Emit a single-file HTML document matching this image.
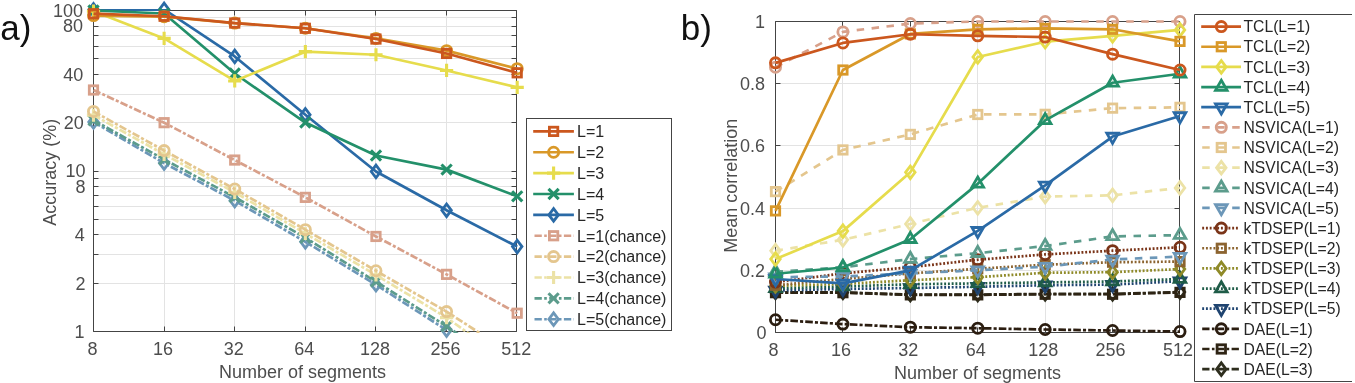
<!DOCTYPE html>
<html><head><meta charset="utf-8"><style>
html,body{margin:0;padding:0;background:#fff;width:1355px;height:383px;overflow:hidden;}
svg{display:block;font-family:"Liberation Sans", sans-serif;will-change:transform;}
</style></head><body>
<svg width="1355" height="383" viewBox="0 0 1355 383">
<rect width="1355" height="383" fill="#fff"/>
<defs><clipPath id="cL"><rect x="92.0" y="9.0" width="426.0" height="324.0"/></clipPath>
<clipPath id="cR"><rect x="774.0" y="20.0" width="407.0" height="314.0"/></clipPath></defs>
<path d="M93.5 283.50H516.5" stroke="#e3e3e3" stroke-width="1"/>
<path d="M93.5 254.50H516.5" stroke="#e3e3e3" stroke-width="1"/>
<path d="M93.5 234.50H516.5" stroke="#e3e3e3" stroke-width="1"/>
<path d="M93.5 219.50H516.5" stroke="#e3e3e3" stroke-width="1"/>
<path d="M93.5 206.50H516.5" stroke="#e3e3e3" stroke-width="1"/>
<path d="M93.5 195.50H516.5" stroke="#e3e3e3" stroke-width="1"/>
<path d="M93.5 186.50H516.5" stroke="#e3e3e3" stroke-width="1"/>
<path d="M93.5 178.50H516.5" stroke="#e3e3e3" stroke-width="1"/>
<path d="M93.5 122.50H516.5" stroke="#e3e3e3" stroke-width="1"/>
<path d="M93.5 94.50H516.5" stroke="#e3e3e3" stroke-width="1"/>
<path d="M93.5 74.50H516.5" stroke="#e3e3e3" stroke-width="1"/>
<path d="M93.5 58.50H516.5" stroke="#e3e3e3" stroke-width="1"/>
<path d="M93.5 46.50H516.5" stroke="#e3e3e3" stroke-width="1"/>
<path d="M93.5 35.50H516.5" stroke="#e3e3e3" stroke-width="1"/>
<path d="M93.5 26.50H516.5" stroke="#e3e3e3" stroke-width="1"/>
<path d="M93.5 17.50H516.5" stroke="#e3e3e3" stroke-width="1"/>
<path d="M93.5 171.50H516.5" stroke="#e3e3e3" stroke-width="1"/>
<path d="M164.50 10.5V331.5" stroke="#e3e3e3" stroke-width="1"/>
<path d="M234.50 10.5V331.5" stroke="#e3e3e3" stroke-width="1"/>
<path d="M305.50 10.5V331.5" stroke="#e3e3e3" stroke-width="1"/>
<path d="M375.50 10.5V331.5" stroke="#e3e3e3" stroke-width="1"/>
<path d="M446.50 10.5V331.5" stroke="#e3e3e3" stroke-width="1"/>
<path d="M93.5 10.5H516.5V331.5H93.5Z" fill="none" stroke="#444444" stroke-width="1"/>
<path d="M93.5 283.50h5M516.5 283.50h-5" stroke="#444444" stroke-width="1"/>
<path d="M93.5 254.50h5M516.5 254.50h-5" stroke="#444444" stroke-width="1"/>
<path d="M93.5 234.50h5M516.5 234.50h-5" stroke="#444444" stroke-width="1"/>
<path d="M93.5 219.50h5M516.5 219.50h-5" stroke="#444444" stroke-width="1"/>
<path d="M93.5 206.50h5M516.5 206.50h-5" stroke="#444444" stroke-width="1"/>
<path d="M93.5 195.50h5M516.5 195.50h-5" stroke="#444444" stroke-width="1"/>
<path d="M93.5 186.50h5M516.5 186.50h-5" stroke="#444444" stroke-width="1"/>
<path d="M93.5 178.50h5M516.5 178.50h-5" stroke="#444444" stroke-width="1"/>
<path d="M93.5 122.50h5M516.5 122.50h-5" stroke="#444444" stroke-width="1"/>
<path d="M93.5 94.50h5M516.5 94.50h-5" stroke="#444444" stroke-width="1"/>
<path d="M93.5 74.50h5M516.5 74.50h-5" stroke="#444444" stroke-width="1"/>
<path d="M93.5 58.50h5M516.5 58.50h-5" stroke="#444444" stroke-width="1"/>
<path d="M93.5 46.50h5M516.5 46.50h-5" stroke="#444444" stroke-width="1"/>
<path d="M93.5 35.50h5M516.5 35.50h-5" stroke="#444444" stroke-width="1"/>
<path d="M93.5 26.50h5M516.5 26.50h-5" stroke="#444444" stroke-width="1"/>
<path d="M93.5 17.50h5M516.5 17.50h-5" stroke="#444444" stroke-width="1"/>
<path d="M93.5 171.50h5M516.5 171.50h-5" stroke="#444444" stroke-width="1"/>
<path d="M93.5 10.50h5M516.5 10.50h-5" stroke="#444444" stroke-width="1"/>
<path d="M93.5 331.50h5M516.5 331.50h-5" stroke="#444444" stroke-width="1"/>
<path d="M93.50 331.5v-5M93.50 10.5v5" stroke="#444444" stroke-width="1"/>
<path d="M164.50 331.5v-5M164.50 10.5v5" stroke="#444444" stroke-width="1"/>
<path d="M234.50 331.5v-5M234.50 10.5v5" stroke="#444444" stroke-width="1"/>
<path d="M305.50 331.5v-5M305.50 10.5v5" stroke="#444444" stroke-width="1"/>
<path d="M375.50 331.5v-5M375.50 10.5v5" stroke="#444444" stroke-width="1"/>
<path d="M446.50 331.5v-5M446.50 10.5v5" stroke="#444444" stroke-width="1"/>
<path d="M516.50 331.5v-5M516.50 10.5v5" stroke="#444444" stroke-width="1"/>
<path d="M93.50 121.99 L164.12 163.10 L234.73 200.60 L305.35 241.83 L375.97 284.70 L446.58 330.12 L517.20 379.82" fill="none" stroke="#6c97b8" stroke-width="2.7" stroke-linejoin="round" stroke-dasharray="7.6 2.1 3.1 2.1" clip-path="url(#cL)"/>
<path d="M93.50 115.69L98.25 121.99L93.50 128.29L88.75 121.99Z" fill="none" stroke="#6c97b8" stroke-width="2.8"/>
<path d="M164.12 156.80L168.87 163.10L164.12 169.40L159.37 163.10Z" fill="none" stroke="#6c97b8" stroke-width="2.8"/>
<path d="M234.73 194.30L239.48 200.60L234.73 206.90L229.98 200.60Z" fill="none" stroke="#6c97b8" stroke-width="2.8"/>
<path d="M305.35 235.53L310.10 241.83L305.35 248.13L300.60 241.83Z" fill="none" stroke="#6c97b8" stroke-width="2.8"/>
<path d="M375.97 278.40L380.72 284.70L375.97 291.00L371.22 284.70Z" fill="none" stroke="#6c97b8" stroke-width="2.8"/>
<path d="M446.58 323.82L451.33 330.12L446.58 336.42L441.83 330.12Z" fill="none" stroke="#6c97b8" stroke-width="2.8"/>
<path d="M93.50 120.29 L164.12 159.46 L234.73 197.17 L305.35 237.71 L375.97 281.63 L446.58 326.33 L517.20 374.45" fill="none" stroke="#5c9c8c" stroke-width="2.7" stroke-linejoin="round" stroke-dasharray="7.6 2.1 3.1 2.1" clip-path="url(#cL)"/>
<path d="M88.40 115.19L98.60 125.39M88.40 125.39L98.60 115.19" stroke="#5c9c8c" stroke-width="3.0999999999999996" fill="none"/>
<path d="M159.02 154.36L169.22 164.56M159.02 164.56L169.22 154.36" stroke="#5c9c8c" stroke-width="3.0999999999999996" fill="none"/>
<path d="M229.63 192.07L239.83 202.27M229.63 202.27L239.83 192.07" stroke="#5c9c8c" stroke-width="3.0999999999999996" fill="none"/>
<path d="M300.25 232.61L310.45 242.81M300.25 242.81L310.45 232.61" stroke="#5c9c8c" stroke-width="3.0999999999999996" fill="none"/>
<path d="M370.87 276.53L381.07 286.73M370.87 286.73L381.07 276.53" stroke="#5c9c8c" stroke-width="3.0999999999999996" fill="none"/>
<path d="M441.48 321.23L451.68 331.43M441.48 331.43L451.68 321.23" stroke="#5c9c8c" stroke-width="3.0999999999999996" fill="none"/>
<path d="M93.50 115.10 L164.12 154.34 L234.73 192.37 L305.35 233.49 L375.97 274.97 L446.58 317.64 L517.20 368.28" fill="none" stroke="#ece2a6" stroke-width="2.7" stroke-linejoin="round" stroke-dasharray="7.6 2.1 3.1 2.1" clip-path="url(#cL)"/>
<path d="M86.90 115.10H100.10M93.50 108.50V121.70" stroke="#ece2a6" stroke-width="3.0999999999999996" fill="none"/>
<path d="M157.52 154.34H170.72M164.12 147.74V160.94" stroke="#ece2a6" stroke-width="3.0999999999999996" fill="none"/>
<path d="M228.13 192.37H241.33M234.73 185.77V198.97" stroke="#ece2a6" stroke-width="3.0999999999999996" fill="none"/>
<path d="M298.75 233.49H311.95M305.35 226.89V240.09" stroke="#ece2a6" stroke-width="3.0999999999999996" fill="none"/>
<path d="M369.37 274.97H382.57M375.97 268.37V281.57" stroke="#ece2a6" stroke-width="3.0999999999999996" fill="none"/>
<path d="M439.98 317.64H453.18M446.58 311.04V324.24" stroke="#ece2a6" stroke-width="3.0999999999999996" fill="none"/>
<path d="M93.50 111.44 L164.12 150.60 L234.73 189.04 L305.35 229.67 L375.97 270.77 L446.58 311.62 L517.20 357.36" fill="none" stroke="#e4c68e" stroke-width="2.7" stroke-linejoin="round" stroke-dasharray="7.6 2.1 3.1 2.1" clip-path="url(#cL)"/>
<circle cx="93.50" cy="111.44" r="5.1" fill="none" stroke="#e4c68e" stroke-width="2.8"/>
<circle cx="164.12" cy="150.60" r="5.1" fill="none" stroke="#e4c68e" stroke-width="2.8"/>
<circle cx="234.73" cy="189.04" r="5.1" fill="none" stroke="#e4c68e" stroke-width="2.8"/>
<circle cx="305.35" cy="229.67" r="5.1" fill="none" stroke="#e4c68e" stroke-width="2.8"/>
<circle cx="375.97" cy="270.77" r="5.1" fill="none" stroke="#e4c68e" stroke-width="2.8"/>
<circle cx="446.58" cy="311.62" r="5.1" fill="none" stroke="#e4c68e" stroke-width="2.8"/>
<path d="M93.50 90.01 L164.12 122.68 L234.73 160.06 L305.35 197.37 L375.97 236.46 L446.58 274.36 L517.20 313.21" fill="none" stroke="#d8a08a" stroke-width="2.7" stroke-linejoin="round" stroke-dasharray="7.6 2.1 3.1 2.1" clip-path="url(#cL)"/>
<rect x="89.30" y="85.81" width="8.40" height="8.40" fill="none" stroke="#d8a08a" stroke-width="2.8"/>
<rect x="159.92" y="118.48" width="8.40" height="8.40" fill="none" stroke="#d8a08a" stroke-width="2.8"/>
<rect x="230.53" y="155.86" width="8.40" height="8.40" fill="none" stroke="#d8a08a" stroke-width="2.8"/>
<rect x="301.15" y="193.17" width="8.40" height="8.40" fill="none" stroke="#d8a08a" stroke-width="2.8"/>
<rect x="371.77" y="232.26" width="8.40" height="8.40" fill="none" stroke="#d8a08a" stroke-width="2.8"/>
<rect x="442.38" y="270.16" width="8.40" height="8.40" fill="none" stroke="#d8a08a" stroke-width="2.8"/>
<rect x="513.00" y="309.01" width="8.40" height="8.40" fill="none" stroke="#d8a08a" stroke-width="2.8"/>
<path d="M93.50 9.81 L164.12 9.46 L234.73 56.48 L305.35 114.79 L375.97 171.49 L446.58 210.30 L517.20 246.61" fill="none" stroke="#2a6aa6" stroke-width="2.7" stroke-linejoin="round" clip-path="url(#cL)"/>
<path d="M93.50 3.51L98.25 9.81L93.50 16.11L88.75 9.81Z" fill="none" stroke="#2a6aa6" stroke-width="2.8"/>
<path d="M164.12 3.16L168.87 9.46L164.12 15.76L159.37 9.46Z" fill="none" stroke="#2a6aa6" stroke-width="2.8"/>
<path d="M234.73 50.18L239.48 56.48L234.73 62.78L229.98 56.48Z" fill="none" stroke="#2a6aa6" stroke-width="2.8"/>
<path d="M305.35 108.49L310.10 114.79L305.35 121.09L300.60 114.79Z" fill="none" stroke="#2a6aa6" stroke-width="2.8"/>
<path d="M375.97 165.19L380.72 171.49L375.97 177.79L371.22 171.49Z" fill="none" stroke="#2a6aa6" stroke-width="2.8"/>
<path d="M446.58 204.00L451.33 210.30L446.58 216.60L441.83 210.30Z" fill="none" stroke="#2a6aa6" stroke-width="2.8"/>
<path d="M517.20 240.31L521.95 246.61L517.20 252.91L512.45 246.61Z" fill="none" stroke="#2a6aa6" stroke-width="2.8"/>
<path d="M93.50 10.50 L164.12 13.49 L234.73 73.50 L305.35 122.55 L375.97 155.45 L446.58 169.62 L517.20 196.36" fill="none" stroke="#23906a" stroke-width="2.7" stroke-linejoin="round" clip-path="url(#cL)"/>
<path d="M88.40 5.40L98.60 15.60M88.40 15.60L98.60 5.40" stroke="#23906a" stroke-width="3.0999999999999996" fill="none"/>
<path d="M159.02 8.39L169.22 18.59M159.02 18.59L169.22 8.39" stroke="#23906a" stroke-width="3.0999999999999996" fill="none"/>
<path d="M229.63 68.40L239.83 78.60M229.63 78.60L239.83 68.40" stroke="#23906a" stroke-width="3.0999999999999996" fill="none"/>
<path d="M300.25 117.45L310.45 127.65M300.25 127.65L310.45 117.45" stroke="#23906a" stroke-width="3.0999999999999996" fill="none"/>
<path d="M370.87 150.35L381.07 160.55M370.87 160.55L381.07 150.35" stroke="#23906a" stroke-width="3.0999999999999996" fill="none"/>
<path d="M441.48 164.52L451.68 174.72M441.48 174.72L451.68 164.52" stroke="#23906a" stroke-width="3.0999999999999996" fill="none"/>
<path d="M512.10 191.26L522.30 201.46M512.10 201.46L522.30 191.26" stroke="#23906a" stroke-width="3.0999999999999996" fill="none"/>
<path d="M93.50 11.20 L164.12 38.41 L234.73 80.94 L305.35 51.67 L375.97 54.75 L446.58 70.47 L517.20 87.36" fill="none" stroke="#e6dc4c" stroke-width="2.7" stroke-linejoin="round" clip-path="url(#cL)"/>
<path d="M86.90 11.20H100.10M93.50 4.60V17.80" stroke="#e6dc4c" stroke-width="3.0999999999999996" fill="none"/>
<path d="M157.52 38.41H170.72M164.12 31.81V45.01" stroke="#e6dc4c" stroke-width="3.0999999999999996" fill="none"/>
<path d="M228.13 80.94H241.33M234.73 74.34V87.54" stroke="#e6dc4c" stroke-width="3.0999999999999996" fill="none"/>
<path d="M298.75 51.67H311.95M305.35 45.07V58.27" stroke="#e6dc4c" stroke-width="3.0999999999999996" fill="none"/>
<path d="M369.37 54.75H382.57M375.97 48.15V61.35" stroke="#e6dc4c" stroke-width="3.0999999999999996" fill="none"/>
<path d="M439.98 70.47H453.18M446.58 63.87V77.07" stroke="#e6dc4c" stroke-width="3.0999999999999996" fill="none"/>
<path d="M510.60 87.36H523.80M517.20 80.76V93.96" stroke="#e6dc4c" stroke-width="3.0999999999999996" fill="none"/>
<path d="M93.50 15.56 L164.12 16.69 L234.73 23.07 L305.35 28.27 L375.97 38.41 L446.58 50.67 L517.20 68.68" fill="none" stroke="#d99828" stroke-width="2.7" stroke-linejoin="round" clip-path="url(#cL)"/>
<circle cx="93.50" cy="15.56" r="5.1" fill="none" stroke="#d99828" stroke-width="2.8"/>
<circle cx="164.12" cy="16.69" r="5.1" fill="none" stroke="#d99828" stroke-width="2.8"/>
<circle cx="234.73" cy="23.07" r="5.1" fill="none" stroke="#d99828" stroke-width="2.8"/>
<circle cx="305.35" cy="28.27" r="5.1" fill="none" stroke="#d99828" stroke-width="2.8"/>
<circle cx="375.97" cy="38.41" r="5.1" fill="none" stroke="#d99828" stroke-width="2.8"/>
<circle cx="446.58" cy="50.67" r="5.1" fill="none" stroke="#d99828" stroke-width="2.8"/>
<circle cx="517.20" cy="68.68" r="5.1" fill="none" stroke="#d99828" stroke-width="2.8"/>
<path d="M93.50 13.71 L164.12 16.24 L234.73 23.07 L305.35 28.27 L375.97 39.04 L446.58 53.45 L517.20 72.82" fill="none" stroke="#cb571e" stroke-width="2.7" stroke-linejoin="round" clip-path="url(#cL)"/>
<rect x="89.30" y="9.51" width="8.40" height="8.40" fill="none" stroke="#cb571e" stroke-width="2.8"/>
<rect x="159.92" y="12.04" width="8.40" height="8.40" fill="none" stroke="#cb571e" stroke-width="2.8"/>
<rect x="230.53" y="18.87" width="8.40" height="8.40" fill="none" stroke="#cb571e" stroke-width="2.8"/>
<rect x="301.15" y="24.07" width="8.40" height="8.40" fill="none" stroke="#cb571e" stroke-width="2.8"/>
<rect x="371.77" y="34.84" width="8.40" height="8.40" fill="none" stroke="#cb571e" stroke-width="2.8"/>
<rect x="442.38" y="49.25" width="8.40" height="8.40" fill="none" stroke="#cb571e" stroke-width="2.8"/>
<rect x="513.00" y="68.62" width="8.40" height="8.40" fill="none" stroke="#cb571e" stroke-width="2.8"/>
<text x="84.60" y="337.90" font-size="18" fill="#4d4d4d" text-anchor="end" >1</text>
<text x="85.60" y="289.58" font-size="18" fill="#4d4d4d" text-anchor="end" >2</text>
<text x="84.80" y="241.27" font-size="18" fill="#4d4d4d" text-anchor="end" >4</text>
<text x="85.60" y="192.95" font-size="18" fill="#4d4d4d" text-anchor="end" >8</text>
<text x="85.60" y="177.40" font-size="18" fill="#4d4d4d" text-anchor="end" >10</text>
<text x="83.90" y="129.08" font-size="18" fill="#4d4d4d" text-anchor="end" >20</text>
<text x="83.40" y="80.77" font-size="18" fill="#4d4d4d" text-anchor="end" >40</text>
<text x="83.00" y="32.45" font-size="18" fill="#4d4d4d" text-anchor="end" >80</text>
<text x="83.00" y="16.90" font-size="18" fill="#4d4d4d" text-anchor="end" >100</text>
<text x="92.50" y="355.00" font-size="18" fill="#4d4d4d" text-anchor="middle" >8</text>
<text x="163.12" y="355.00" font-size="18" fill="#4d4d4d" text-anchor="middle" >16</text>
<text x="233.73" y="355.00" font-size="18" fill="#4d4d4d" text-anchor="middle" >32</text>
<text x="304.35" y="355.00" font-size="18" fill="#4d4d4d" text-anchor="middle" >64</text>
<text x="374.97" y="355.00" font-size="18" fill="#4d4d4d" text-anchor="middle" >128</text>
<text x="445.58" y="355.00" font-size="18" fill="#4d4d4d" text-anchor="middle" >256</text>
<text x="516.20" y="355.00" font-size="18" fill="#4d4d4d" text-anchor="middle" >512</text>
<text x="302.50" y="378.00" font-size="18" fill="#4d4d4d" text-anchor="middle" >Number of segments</text>
<text x="0.00" y="0.00" font-size="18" fill="#4d4d4d" text-anchor="middle" transform="translate(55.5 172.2) rotate(-90)">Accuracy (%)</text>
<text x="0.30" y="40.30" font-size="35" fill="#111" text-anchor="start" >a)</text>
<rect x="526.5" y="118.5" width="145" height="212" fill="#fff" stroke="#444444" stroke-width="1"/>
<path d="M533.2 131.40H573.9" stroke="#cb571e" stroke-width="2.7"/>
<rect x="549.40" y="127.20" width="8.40" height="8.40" fill="none" stroke="#cb571e" stroke-width="2.8"/>
<text x="577.00" y="137.20" font-size="16" fill="#262626" text-anchor="start" >L=1</text>
<path d="M533.2 152.27H573.9" stroke="#d99828" stroke-width="2.7"/>
<circle cx="553.60" cy="152.27" r="5.1" fill="none" stroke="#d99828" stroke-width="2.8"/>
<text x="577.00" y="158.07" font-size="16" fill="#262626" text-anchor="start" >L=2</text>
<path d="M533.2 173.14H573.9" stroke="#e6dc4c" stroke-width="2.7"/>
<path d="M547.00 173.14H560.20M553.60 166.54V179.74" stroke="#e6dc4c" stroke-width="3.0999999999999996" fill="none"/>
<text x="577.00" y="178.94" font-size="16" fill="#262626" text-anchor="start" >L=3</text>
<path d="M533.2 194.01H573.9" stroke="#23906a" stroke-width="2.7"/>
<path d="M548.50 188.91L558.70 199.11M548.50 199.11L558.70 188.91" stroke="#23906a" stroke-width="3.0999999999999996" fill="none"/>
<text x="577.00" y="199.81" font-size="16" fill="#262626" text-anchor="start" >L=4</text>
<path d="M533.2 214.88H573.9" stroke="#2a6aa6" stroke-width="2.7"/>
<path d="M553.60 208.58L558.35 214.88L553.60 221.18L548.85 214.88Z" fill="none" stroke="#2a6aa6" stroke-width="2.8"/>
<text x="577.00" y="220.68" font-size="16" fill="#262626" text-anchor="start" >L=5</text>
<path d="M534.5 235.75H573.9" stroke="#d8a08a" stroke-width="2.7" stroke-dasharray="7.3 2.4 2.6 2.4"/>
<rect x="549.40" y="231.55" width="8.40" height="8.40" fill="none" stroke="#d8a08a" stroke-width="2.8"/>
<text x="577.00" y="241.55" font-size="16" fill="#262626" text-anchor="start" >L=1(chance)</text>
<path d="M534.5 256.62H573.9" stroke="#e4c68e" stroke-width="2.7" stroke-dasharray="7.3 2.4 2.6 2.4"/>
<circle cx="553.60" cy="256.62" r="5.1" fill="none" stroke="#e4c68e" stroke-width="2.8"/>
<text x="577.00" y="262.42" font-size="16" fill="#262626" text-anchor="start" >L=2(chance)</text>
<path d="M534.5 277.49H573.9" stroke="#ece2a6" stroke-width="2.7" stroke-dasharray="7.3 2.4 2.6 2.4"/>
<path d="M547.00 277.49H560.20M553.60 270.89V284.09" stroke="#ece2a6" stroke-width="3.0999999999999996" fill="none"/>
<text x="577.00" y="283.29" font-size="16" fill="#262626" text-anchor="start" >L=3(chance)</text>
<path d="M534.5 298.36H573.9" stroke="#5c9c8c" stroke-width="2.7" stroke-dasharray="7.3 2.4 2.6 2.4"/>
<path d="M548.50 293.26L558.70 303.46M548.50 303.46L558.70 293.26" stroke="#5c9c8c" stroke-width="3.0999999999999996" fill="none"/>
<text x="577.00" y="304.16" font-size="16" fill="#262626" text-anchor="start" >L=4(chance)</text>
<path d="M534.5 319.23H573.9" stroke="#6c97b8" stroke-width="2.7" stroke-dasharray="7.3 2.4 2.6 2.4"/>
<path d="M553.60 312.93L558.35 319.23L553.60 325.53L548.85 319.23Z" fill="none" stroke="#6c97b8" stroke-width="2.8"/>
<text x="577.00" y="325.03" font-size="16" fill="#262626" text-anchor="start" >L=5(chance)</text>
<path d="M775.5 270.50H1179.5" stroke="#e3e3e3" stroke-width="1"/>
<path d="M775.5 208.50H1179.5" stroke="#e3e3e3" stroke-width="1"/>
<path d="M775.5 145.50H1179.5" stroke="#e3e3e3" stroke-width="1"/>
<path d="M775.5 83.50H1179.5" stroke="#e3e3e3" stroke-width="1"/>
<path d="M842.50 21.5V332.5" stroke="#e3e3e3" stroke-width="1"/>
<path d="M910.50 21.5V332.5" stroke="#e3e3e3" stroke-width="1"/>
<path d="M977.50 21.5V332.5" stroke="#e3e3e3" stroke-width="1"/>
<path d="M1045.50 21.5V332.5" stroke="#e3e3e3" stroke-width="1"/>
<path d="M1112.50 21.5V332.5" stroke="#e3e3e3" stroke-width="1"/>
<path d="M775.5 21.5H1179.5V332.5H775.5Z" fill="none" stroke="#444444" stroke-width="1"/>
<path d="M775.5 332.50h5M1179.5 332.50h-5" stroke="#444444" stroke-width="1"/>
<path d="M775.5 270.50h5M1179.5 270.50h-5" stroke="#444444" stroke-width="1"/>
<path d="M775.5 208.50h5M1179.5 208.50h-5" stroke="#444444" stroke-width="1"/>
<path d="M775.5 145.50h5M1179.5 145.50h-5" stroke="#444444" stroke-width="1"/>
<path d="M775.5 83.50h5M1179.5 83.50h-5" stroke="#444444" stroke-width="1"/>
<path d="M775.5 21.50h5M1179.5 21.50h-5" stroke="#444444" stroke-width="1"/>
<path d="M775.50 332.5v-5M775.50 21.5v5" stroke="#444444" stroke-width="1"/>
<path d="M842.50 332.5v-5M842.50 21.5v5" stroke="#444444" stroke-width="1"/>
<path d="M910.50 332.5v-5M910.50 21.5v5" stroke="#444444" stroke-width="1"/>
<path d="M977.50 332.5v-5M977.50 21.5v5" stroke="#444444" stroke-width="1"/>
<path d="M1045.50 332.5v-5M1045.50 21.5v5" stroke="#444444" stroke-width="1"/>
<path d="M1112.50 332.5v-5M1112.50 21.5v5" stroke="#444444" stroke-width="1"/>
<path d="M1179.50 332.5v-5M1179.50 21.5v5" stroke="#444444" stroke-width="1"/>
<path d="M775.50 292.38 L842.92 292.38 L910.33 294.56 L977.75 294.56 L1045.17 293.94 L1112.58 293.94 L1180.00 292.07" fill="none" stroke="#2e2e1e" stroke-width="2.7" stroke-linejoin="round" stroke-dasharray="7.6 2.1 3.1 2.1" clip-path="url(#cR)"/>
<path d="M775.50 286.08L780.25 292.38L775.50 298.68L770.75 292.38Z" fill="none" stroke="#2e2e1e" stroke-width="2.8"/>
<path d="M842.92 286.08L847.67 292.38L842.92 298.68L838.17 292.38Z" fill="none" stroke="#2e2e1e" stroke-width="2.8"/>
<path d="M910.33 288.26L915.08 294.56L910.33 300.86L905.58 294.56Z" fill="none" stroke="#2e2e1e" stroke-width="2.8"/>
<path d="M977.75 288.26L982.50 294.56L977.75 300.86L973.00 294.56Z" fill="none" stroke="#2e2e1e" stroke-width="2.8"/>
<path d="M1045.17 287.64L1049.92 293.94L1045.17 300.24L1040.42 293.94Z" fill="none" stroke="#2e2e1e" stroke-width="2.8"/>
<path d="M1112.58 287.64L1117.33 293.94L1112.58 300.24L1107.83 293.94Z" fill="none" stroke="#2e2e1e" stroke-width="2.8"/>
<path d="M1180.00 285.77L1184.75 292.07L1180.00 298.37L1175.25 292.07Z" fill="none" stroke="#2e2e1e" stroke-width="2.8"/>
<path d="M775.50 292.69 L842.92 292.69 L910.33 294.87 L977.75 294.87 L1045.17 294.25 L1112.58 294.25 L1180.00 292.38" fill="none" stroke="#2e2414" stroke-width="2.7" stroke-linejoin="round" stroke-dasharray="7.6 2.1 3.1 2.1" clip-path="url(#cR)"/>
<rect x="771.30" y="288.49" width="8.40" height="8.40" fill="none" stroke="#2e2414" stroke-width="2.8"/>
<rect x="838.72" y="288.49" width="8.40" height="8.40" fill="none" stroke="#2e2414" stroke-width="2.8"/>
<rect x="906.13" y="290.67" width="8.40" height="8.40" fill="none" stroke="#2e2414" stroke-width="2.8"/>
<rect x="973.55" y="290.67" width="8.40" height="8.40" fill="none" stroke="#2e2414" stroke-width="2.8"/>
<rect x="1040.97" y="290.05" width="8.40" height="8.40" fill="none" stroke="#2e2414" stroke-width="2.8"/>
<rect x="1108.38" y="290.05" width="8.40" height="8.40" fill="none" stroke="#2e2414" stroke-width="2.8"/>
<rect x="1175.80" y="288.18" width="8.40" height="8.40" fill="none" stroke="#2e2414" stroke-width="2.8"/>
<path d="M775.50 319.75 L842.92 324.10 L910.33 327.21 L977.75 328.21 L1045.17 329.51 L1112.58 330.51 L1180.00 331.57" fill="none" stroke="#2b1d10" stroke-width="2.7" stroke-linejoin="round" stroke-dasharray="7.6 2.1 3.1 2.1" clip-path="url(#cR)"/>
<circle cx="775.50" cy="319.75" r="5.1" fill="none" stroke="#2b1d10" stroke-width="2.8"/>
<circle cx="842.92" cy="324.10" r="5.1" fill="none" stroke="#2b1d10" stroke-width="2.8"/>
<circle cx="910.33" cy="327.21" r="5.1" fill="none" stroke="#2b1d10" stroke-width="2.8"/>
<circle cx="977.75" cy="328.21" r="5.1" fill="none" stroke="#2b1d10" stroke-width="2.8"/>
<circle cx="1045.17" cy="329.51" r="5.1" fill="none" stroke="#2b1d10" stroke-width="2.8"/>
<circle cx="1112.58" cy="330.51" r="5.1" fill="none" stroke="#2b1d10" stroke-width="2.8"/>
<circle cx="1180.00" cy="331.57" r="5.1" fill="none" stroke="#2b1d10" stroke-width="2.8"/>
<path d="M775.50 290.51 L842.92 288.96 L910.33 288.03 L977.75 286.78 L1045.17 285.23 L1112.58 284.61 L1180.00 281.19" fill="none" stroke="#1f4470" stroke-width="2.7" stroke-linejoin="round" stroke-dasharray="1.9 1.85" clip-path="url(#cR)"/>
<path d="M775.50 297.31L781.30 287.21L769.70 287.21Z" fill="none" stroke="#1f4470" stroke-width="2.8" stroke-linejoin="miter"/>
<path d="M842.92 295.76L848.72 285.66L837.12 285.66Z" fill="none" stroke="#1f4470" stroke-width="2.8" stroke-linejoin="miter"/>
<path d="M910.33 294.83L916.13 284.73L904.53 284.73Z" fill="none" stroke="#1f4470" stroke-width="2.8" stroke-linejoin="miter"/>
<path d="M977.75 293.58L983.55 283.48L971.95 283.48Z" fill="none" stroke="#1f4470" stroke-width="2.8" stroke-linejoin="miter"/>
<path d="M1045.17 292.03L1050.97 281.93L1039.37 281.93Z" fill="none" stroke="#1f4470" stroke-width="2.8" stroke-linejoin="miter"/>
<path d="M1112.58 291.41L1118.38 281.31L1106.78 281.31Z" fill="none" stroke="#1f4470" stroke-width="2.8" stroke-linejoin="miter"/>
<path d="M1180.00 287.99L1185.80 277.88L1174.20 277.88Z" fill="none" stroke="#1f4470" stroke-width="2.8" stroke-linejoin="miter"/>
<path d="M775.50 288.34 L842.92 286.47 L910.33 284.30 L977.75 283.36 L1045.17 282.43 L1112.58 281.50 L1180.00 279.01" fill="none" stroke="#1f5c48" stroke-width="2.7" stroke-linejoin="round" stroke-dasharray="1.9 1.85" clip-path="url(#cR)"/>
<path d="M775.50 281.54L781.30 291.64L769.70 291.64Z" fill="none" stroke="#1f5c48" stroke-width="2.8" stroke-linejoin="miter"/>
<path d="M842.92 279.67L848.72 289.77L837.12 289.77Z" fill="none" stroke="#1f5c48" stroke-width="2.8" stroke-linejoin="miter"/>
<path d="M910.33 277.50L916.13 287.60L904.53 287.60Z" fill="none" stroke="#1f5c48" stroke-width="2.8" stroke-linejoin="miter"/>
<path d="M977.75 276.56L983.55 286.66L971.95 286.66Z" fill="none" stroke="#1f5c48" stroke-width="2.8" stroke-linejoin="miter"/>
<path d="M1045.17 275.63L1050.97 285.73L1039.37 285.73Z" fill="none" stroke="#1f5c48" stroke-width="2.8" stroke-linejoin="miter"/>
<path d="M1112.58 274.70L1118.38 284.80L1106.78 284.80Z" fill="none" stroke="#1f5c48" stroke-width="2.8" stroke-linejoin="miter"/>
<path d="M1180.00 272.21L1185.80 282.31L1174.20 282.31Z" fill="none" stroke="#1f5c48" stroke-width="2.8" stroke-linejoin="miter"/>
<path d="M775.50 285.85 L842.92 283.98 L910.33 280.25 L977.75 277.14 L1045.17 272.79 L1112.58 272.17 L1180.00 269.06" fill="none" stroke="#8f8a28" stroke-width="2.7" stroke-linejoin="round" stroke-dasharray="1.9 1.85" clip-path="url(#cR)"/>
<path d="M775.50 279.55L780.25 285.85L775.50 292.15L770.75 285.85Z" fill="none" stroke="#8f8a28" stroke-width="2.8"/>
<path d="M842.92 277.68L847.67 283.98L842.92 290.28L838.17 283.98Z" fill="none" stroke="#8f8a28" stroke-width="2.8"/>
<path d="M910.33 273.95L915.08 280.25L910.33 286.55L905.58 280.25Z" fill="none" stroke="#8f8a28" stroke-width="2.8"/>
<path d="M977.75 270.84L982.50 277.14L977.75 283.44L973.00 277.14Z" fill="none" stroke="#8f8a28" stroke-width="2.8"/>
<path d="M1045.17 266.49L1049.92 272.79L1045.17 279.09L1040.42 272.79Z" fill="none" stroke="#8f8a28" stroke-width="2.8"/>
<path d="M1112.58 265.87L1117.33 272.17L1112.58 278.47L1107.83 272.17Z" fill="none" stroke="#8f8a28" stroke-width="2.8"/>
<path d="M1180.00 262.76L1184.75 269.06L1180.00 275.36L1175.25 269.06Z" fill="none" stroke="#8f8a28" stroke-width="2.8"/>
<path d="M775.50 285.23 L842.92 279.01 L910.33 273.41 L977.75 268.75 L1045.17 264.70 L1112.58 262.21 L1180.00 261.59" fill="none" stroke="#8c6430" stroke-width="2.7" stroke-linejoin="round" stroke-dasharray="1.9 1.85" clip-path="url(#cR)"/>
<rect x="771.30" y="281.03" width="8.40" height="8.40" fill="none" stroke="#8c6430" stroke-width="2.8"/>
<rect x="838.72" y="274.81" width="8.40" height="8.40" fill="none" stroke="#8c6430" stroke-width="2.8"/>
<rect x="906.13" y="269.21" width="8.40" height="8.40" fill="none" stroke="#8c6430" stroke-width="2.8"/>
<rect x="973.55" y="264.55" width="8.40" height="8.40" fill="none" stroke="#8c6430" stroke-width="2.8"/>
<rect x="1040.97" y="260.50" width="8.40" height="8.40" fill="none" stroke="#8c6430" stroke-width="2.8"/>
<rect x="1108.38" y="258.01" width="8.40" height="8.40" fill="none" stroke="#8c6430" stroke-width="2.8"/>
<rect x="1175.80" y="257.39" width="8.40" height="8.40" fill="none" stroke="#8c6430" stroke-width="2.8"/>
<path d="M775.50 282.12 L842.92 273.41 L910.33 267.19 L977.75 259.73 L1045.17 254.44 L1112.58 250.71 L1180.00 247.29" fill="none" stroke="#7a3418" stroke-width="2.7" stroke-linejoin="round" stroke-dasharray="1.9 1.85" clip-path="url(#cR)"/>
<circle cx="775.50" cy="282.12" r="5.1" fill="none" stroke="#7a3418" stroke-width="2.8"/>
<circle cx="842.92" cy="273.41" r="5.1" fill="none" stroke="#7a3418" stroke-width="2.8"/>
<circle cx="910.33" cy="267.19" r="5.1" fill="none" stroke="#7a3418" stroke-width="2.8"/>
<circle cx="977.75" cy="259.73" r="5.1" fill="none" stroke="#7a3418" stroke-width="2.8"/>
<circle cx="1045.17" cy="254.44" r="5.1" fill="none" stroke="#7a3418" stroke-width="2.8"/>
<circle cx="1112.58" cy="250.71" r="5.1" fill="none" stroke="#7a3418" stroke-width="2.8"/>
<circle cx="1180.00" cy="247.29" r="5.1" fill="none" stroke="#7a3418" stroke-width="2.8"/>
<path d="M775.50 277.14 L842.92 276.52 L910.33 273.41 L977.75 270.30 L1045.17 266.69 L1112.58 259.42 L1180.00 256.62" fill="none" stroke="#6c97b8" stroke-width="2.7" stroke-linejoin="round" stroke-dasharray="7.5 7.5" clip-path="url(#cR)"/>
<path d="M775.50 283.94L781.30 273.84L769.70 273.84Z" fill="none" stroke="#6c97b8" stroke-width="2.8" stroke-linejoin="miter"/>
<path d="M842.92 283.32L848.72 273.22L837.12 273.22Z" fill="none" stroke="#6c97b8" stroke-width="2.8" stroke-linejoin="miter"/>
<path d="M910.33 280.21L916.13 270.11L904.53 270.11Z" fill="none" stroke="#6c97b8" stroke-width="2.8" stroke-linejoin="miter"/>
<path d="M977.75 277.10L983.55 267.00L971.95 267.00Z" fill="none" stroke="#6c97b8" stroke-width="2.8" stroke-linejoin="miter"/>
<path d="M1045.17 273.49L1050.97 263.39L1039.37 263.39Z" fill="none" stroke="#6c97b8" stroke-width="2.8" stroke-linejoin="miter"/>
<path d="M1112.58 266.22L1118.38 256.12L1106.78 256.12Z" fill="none" stroke="#6c97b8" stroke-width="2.8" stroke-linejoin="miter"/>
<path d="M1180.00 263.42L1185.80 253.32L1174.20 253.32Z" fill="none" stroke="#6c97b8" stroke-width="2.8" stroke-linejoin="miter"/>
<path d="M775.50 271.86 L842.92 267.19 L910.33 259.10 L977.75 253.19 L1045.17 246.04 L1112.58 236.40 L1180.00 235.16" fill="none" stroke="#5c9c8c" stroke-width="2.7" stroke-linejoin="round" stroke-dasharray="7.5 7.5" clip-path="url(#cR)"/>
<path d="M775.50 265.06L781.30 275.16L769.70 275.16Z" fill="none" stroke="#5c9c8c" stroke-width="2.8" stroke-linejoin="miter"/>
<path d="M842.92 260.39L848.72 270.49L837.12 270.49Z" fill="none" stroke="#5c9c8c" stroke-width="2.8" stroke-linejoin="miter"/>
<path d="M910.33 252.30L916.13 262.40L904.53 262.40Z" fill="none" stroke="#5c9c8c" stroke-width="2.8" stroke-linejoin="miter"/>
<path d="M977.75 246.39L983.55 256.50L971.95 256.50Z" fill="none" stroke="#5c9c8c" stroke-width="2.8" stroke-linejoin="miter"/>
<path d="M1045.17 239.24L1050.97 249.34L1039.37 249.34Z" fill="none" stroke="#5c9c8c" stroke-width="2.8" stroke-linejoin="miter"/>
<path d="M1112.58 229.60L1118.38 239.70L1106.78 239.70Z" fill="none" stroke="#5c9c8c" stroke-width="2.8" stroke-linejoin="miter"/>
<path d="M1180.00 228.36L1185.80 238.46L1174.20 238.46Z" fill="none" stroke="#5c9c8c" stroke-width="2.8" stroke-linejoin="miter"/>
<path d="M775.50 250.71 L842.92 239.82 L910.33 223.96 L977.75 207.79 L1045.17 196.59 L1112.58 195.35 L1180.00 187.88" fill="none" stroke="#ece2a6" stroke-width="2.7" stroke-linejoin="round" stroke-dasharray="7.5 7.5" clip-path="url(#cR)"/>
<path d="M775.50 244.41L780.25 250.71L775.50 257.01L770.75 250.71Z" fill="none" stroke="#ece2a6" stroke-width="2.8"/>
<path d="M842.92 233.52L847.67 239.82L842.92 246.12L838.17 239.82Z" fill="none" stroke="#ece2a6" stroke-width="2.8"/>
<path d="M910.33 217.66L915.08 223.96L910.33 230.26L905.58 223.96Z" fill="none" stroke="#ece2a6" stroke-width="2.8"/>
<path d="M977.75 201.49L982.50 207.79L977.75 214.09L973.00 207.79Z" fill="none" stroke="#ece2a6" stroke-width="2.8"/>
<path d="M1045.17 190.29L1049.92 196.59L1045.17 202.89L1040.42 196.59Z" fill="none" stroke="#ece2a6" stroke-width="2.8"/>
<path d="M1112.58 189.05L1117.33 195.35L1112.58 201.65L1107.83 195.35Z" fill="none" stroke="#ece2a6" stroke-width="2.8"/>
<path d="M1180.00 181.58L1184.75 187.88L1180.00 194.19L1175.25 187.88Z" fill="none" stroke="#ece2a6" stroke-width="2.8"/>
<path d="M775.50 191.62 L842.92 149.94 L910.33 134.39 L977.75 114.49 L1045.17 114.30 L1112.58 108.14 L1180.00 107.34" fill="none" stroke="#e4c68e" stroke-width="2.7" stroke-linejoin="round" stroke-dasharray="7.5 7.5" clip-path="url(#cR)"/>
<rect x="771.30" y="187.42" width="8.40" height="8.40" fill="none" stroke="#e4c68e" stroke-width="2.8"/>
<rect x="838.72" y="145.74" width="8.40" height="8.40" fill="none" stroke="#e4c68e" stroke-width="2.8"/>
<rect x="906.13" y="130.19" width="8.40" height="8.40" fill="none" stroke="#e4c68e" stroke-width="2.8"/>
<rect x="973.55" y="110.29" width="8.40" height="8.40" fill="none" stroke="#e4c68e" stroke-width="2.8"/>
<rect x="1040.97" y="110.10" width="8.40" height="8.40" fill="none" stroke="#e4c68e" stroke-width="2.8"/>
<rect x="1108.38" y="103.94" width="8.40" height="8.40" fill="none" stroke="#e4c68e" stroke-width="2.8"/>
<rect x="1175.80" y="103.14" width="8.40" height="8.40" fill="none" stroke="#e4c68e" stroke-width="2.8"/>
<path d="M775.50 67.22 L842.92 31.92 L910.33 23.49 L977.75 21.50 L1045.17 21.50 L1112.58 21.50 L1180.00 21.50" fill="none" stroke="#d8a08a" stroke-width="2.7" stroke-linejoin="round" stroke-dasharray="7.5 7.5" clip-path="url(#cR)"/>
<circle cx="775.50" cy="67.22" r="5.1" fill="none" stroke="#d8a08a" stroke-width="2.8"/>
<circle cx="842.92" cy="31.92" r="5.1" fill="none" stroke="#d8a08a" stroke-width="2.8"/>
<circle cx="910.33" cy="23.49" r="5.1" fill="none" stroke="#d8a08a" stroke-width="2.8"/>
<circle cx="977.75" cy="21.50" r="5.1" fill="none" stroke="#d8a08a" stroke-width="2.8"/>
<circle cx="1045.17" cy="21.50" r="5.1" fill="none" stroke="#d8a08a" stroke-width="2.8"/>
<circle cx="1112.58" cy="21.50" r="5.1" fill="none" stroke="#d8a08a" stroke-width="2.8"/>
<circle cx="1180.00" cy="21.50" r="5.1" fill="none" stroke="#d8a08a" stroke-width="2.8"/>
<path d="M775.50 279.01 L842.92 283.36 L910.33 270.42 L977.75 230.80 L1045.17 185.40 L1112.58 136.57 L1180.00 116.04" fill="none" stroke="#2a6aa6" stroke-width="2.7" stroke-linejoin="round" clip-path="url(#cR)"/>
<path d="M775.50 285.81L781.30 275.71L769.70 275.71Z" fill="none" stroke="#2a6aa6" stroke-width="2.8" stroke-linejoin="miter"/>
<path d="M842.92 290.16L848.72 280.06L837.12 280.06Z" fill="none" stroke="#2a6aa6" stroke-width="2.8" stroke-linejoin="miter"/>
<path d="M910.33 277.22L916.13 267.12L904.53 267.12Z" fill="none" stroke="#2a6aa6" stroke-width="2.8" stroke-linejoin="miter"/>
<path d="M977.75 237.60L983.55 227.50L971.95 227.50Z" fill="none" stroke="#2a6aa6" stroke-width="2.8" stroke-linejoin="miter"/>
<path d="M1045.17 192.20L1050.97 182.10L1039.37 182.10Z" fill="none" stroke="#2a6aa6" stroke-width="2.8" stroke-linejoin="miter"/>
<path d="M1112.58 143.37L1118.38 133.27L1106.78 133.27Z" fill="none" stroke="#2a6aa6" stroke-width="2.8" stroke-linejoin="miter"/>
<path d="M1180.00 122.84L1185.80 112.74L1174.20 112.74Z" fill="none" stroke="#2a6aa6" stroke-width="2.8" stroke-linejoin="miter"/>
<path d="M775.50 273.72 L842.92 267.50 L910.33 239.20 L977.75 183.84 L1045.17 120.40 L1112.58 82.77 L1180.00 73.75" fill="none" stroke="#23906a" stroke-width="2.7" stroke-linejoin="round" clip-path="url(#cR)"/>
<path d="M775.50 266.92L781.30 277.02L769.70 277.02Z" fill="none" stroke="#23906a" stroke-width="2.8" stroke-linejoin="miter"/>
<path d="M842.92 260.70L848.72 270.80L837.12 270.80Z" fill="none" stroke="#23906a" stroke-width="2.8" stroke-linejoin="miter"/>
<path d="M910.33 232.40L916.13 242.50L904.53 242.50Z" fill="none" stroke="#23906a" stroke-width="2.8" stroke-linejoin="miter"/>
<path d="M977.75 177.04L983.55 187.14L971.95 187.14Z" fill="none" stroke="#23906a" stroke-width="2.8" stroke-linejoin="miter"/>
<path d="M1045.17 113.60L1050.97 123.70L1039.37 123.70Z" fill="none" stroke="#23906a" stroke-width="2.8" stroke-linejoin="miter"/>
<path d="M1112.58 75.97L1118.38 86.07L1106.78 86.07Z" fill="none" stroke="#23906a" stroke-width="2.8" stroke-linejoin="miter"/>
<path d="M1180.00 66.95L1185.80 77.05L1174.20 77.05Z" fill="none" stroke="#23906a" stroke-width="2.8" stroke-linejoin="miter"/>
<path d="M775.50 259.10 L842.92 231.11 L910.33 172.34 L977.75 56.95 L1045.17 41.71 L1112.58 35.81 L1180.00 29.90" fill="none" stroke="#e6dc4c" stroke-width="2.7" stroke-linejoin="round" clip-path="url(#cR)"/>
<path d="M775.50 252.80L780.25 259.10L775.50 265.40L770.75 259.10Z" fill="none" stroke="#e6dc4c" stroke-width="2.8"/>
<path d="M842.92 224.81L847.67 231.11L842.92 237.41L838.17 231.11Z" fill="none" stroke="#e6dc4c" stroke-width="2.8"/>
<path d="M910.33 166.03L915.08 172.34L910.33 178.64L905.58 172.34Z" fill="none" stroke="#e6dc4c" stroke-width="2.8"/>
<path d="M977.75 50.65L982.50 56.95L977.75 63.25L973.00 56.95Z" fill="none" stroke="#e6dc4c" stroke-width="2.8"/>
<path d="M1045.17 35.41L1049.92 41.71L1045.17 48.01L1040.42 41.71Z" fill="none" stroke="#e6dc4c" stroke-width="2.8"/>
<path d="M1112.58 29.51L1117.33 35.81L1112.58 42.11L1107.83 35.81Z" fill="none" stroke="#e6dc4c" stroke-width="2.8"/>
<path d="M1180.00 23.60L1184.75 29.90L1180.00 36.20L1175.25 29.90Z" fill="none" stroke="#e6dc4c" stroke-width="2.8"/>
<path d="M775.50 210.90 L842.92 70.02 L910.33 33.94 L977.75 29.28 L1045.17 28.34 L1112.58 29.28 L1180.00 41.40" fill="none" stroke="#d99828" stroke-width="2.7" stroke-linejoin="round" clip-path="url(#cR)"/>
<rect x="771.30" y="206.70" width="8.40" height="8.40" fill="none" stroke="#d99828" stroke-width="2.8"/>
<rect x="838.72" y="65.82" width="8.40" height="8.40" fill="none" stroke="#d99828" stroke-width="2.8"/>
<rect x="906.13" y="29.74" width="8.40" height="8.40" fill="none" stroke="#d99828" stroke-width="2.8"/>
<rect x="973.55" y="25.08" width="8.40" height="8.40" fill="none" stroke="#d99828" stroke-width="2.8"/>
<rect x="1040.97" y="24.14" width="8.40" height="8.40" fill="none" stroke="#d99828" stroke-width="2.8"/>
<rect x="1108.38" y="25.08" width="8.40" height="8.40" fill="none" stroke="#d99828" stroke-width="2.8"/>
<rect x="1175.80" y="37.20" width="8.40" height="8.40" fill="none" stroke="#d99828" stroke-width="2.8"/>
<path d="M775.50 62.86 L842.92 42.96 L910.33 34.25 L977.75 35.81 L1045.17 37.05 L1112.58 54.15 L1180.00 70.02" fill="none" stroke="#cb571e" stroke-width="2.7" stroke-linejoin="round" clip-path="url(#cR)"/>
<circle cx="775.50" cy="62.86" r="5.1" fill="none" stroke="#cb571e" stroke-width="2.8"/>
<circle cx="842.92" cy="42.96" r="5.1" fill="none" stroke="#cb571e" stroke-width="2.8"/>
<circle cx="910.33" cy="34.25" r="5.1" fill="none" stroke="#cb571e" stroke-width="2.8"/>
<circle cx="977.75" cy="35.81" r="5.1" fill="none" stroke="#cb571e" stroke-width="2.8"/>
<circle cx="1045.17" cy="37.05" r="5.1" fill="none" stroke="#cb571e" stroke-width="2.8"/>
<circle cx="1112.58" cy="54.15" r="5.1" fill="none" stroke="#cb571e" stroke-width="2.8"/>
<circle cx="1180.00" cy="70.02" r="5.1" fill="none" stroke="#cb571e" stroke-width="2.8"/>
<text x="766.50" y="338.90" font-size="18" fill="#4d4d4d" text-anchor="end" >0</text>
<text x="765.00" y="276.70" font-size="18" fill="#4d4d4d" text-anchor="end" >0.2</text>
<text x="765.00" y="214.50" font-size="18" fill="#4d4d4d" text-anchor="end" >0.4</text>
<text x="765.00" y="152.30" font-size="18" fill="#4d4d4d" text-anchor="end" >0.6</text>
<text x="765.00" y="90.10" font-size="18" fill="#4d4d4d" text-anchor="end" >0.8</text>
<text x="765.00" y="27.90" font-size="18" fill="#4d4d4d" text-anchor="end" >1</text>
<text x="773.50" y="355.80" font-size="18" fill="#4d4d4d" text-anchor="middle" >8</text>
<text x="840.92" y="355.80" font-size="18" fill="#4d4d4d" text-anchor="middle" >16</text>
<text x="908.33" y="355.80" font-size="18" fill="#4d4d4d" text-anchor="middle" >32</text>
<text x="975.75" y="355.80" font-size="18" fill="#4d4d4d" text-anchor="middle" >64</text>
<text x="1043.17" y="355.80" font-size="18" fill="#4d4d4d" text-anchor="middle" >128</text>
<text x="1110.58" y="355.80" font-size="18" fill="#4d4d4d" text-anchor="middle" >256</text>
<text x="1178.00" y="355.80" font-size="18" fill="#4d4d4d" text-anchor="middle" >512</text>
<text x="977.50" y="379.00" font-size="18" fill="#4d4d4d" text-anchor="middle" >Number of segments</text>
<text x="0.00" y="0.00" font-size="18" fill="#4d4d4d" text-anchor="middle" transform="translate(737 185.8) rotate(-90)">Mean correlation</text>
<text x="680.80" y="40.30" font-size="35" fill="#111" text-anchor="start" >b)</text>
<rect x="1194.5" y="14.5" width="160" height="366.5" fill="#fff"/>
<path d="M1352 14.5H1194.5V381.5H1352" fill="none" stroke="#444444" stroke-width="1"/>
<path d="M1201.2 26.60H1241" stroke="#cb571e" stroke-width="2.7"/>
<circle cx="1221.30" cy="26.60" r="5.1" fill="none" stroke="#cb571e" stroke-width="2.8"/>
<text x="1243.50" y="32.30" font-size="15.7" fill="#262626" text-anchor="start" >TCL(L=1)</text>
<path d="M1201.2 46.75H1241" stroke="#d99828" stroke-width="2.7"/>
<rect x="1217.10" y="42.55" width="8.40" height="8.40" fill="none" stroke="#d99828" stroke-width="2.8"/>
<text x="1243.50" y="52.45" font-size="15.7" fill="#262626" text-anchor="start" >TCL(L=2)</text>
<path d="M1201.2 66.90H1241" stroke="#e6dc4c" stroke-width="2.7"/>
<path d="M1221.30 60.60L1226.05 66.90L1221.30 73.20L1216.55 66.90Z" fill="none" stroke="#e6dc4c" stroke-width="2.8"/>
<text x="1243.50" y="72.60" font-size="15.7" fill="#262626" text-anchor="start" >TCL(L=3)</text>
<path d="M1201.2 87.05H1241" stroke="#23906a" stroke-width="2.7"/>
<path d="M1221.30 80.25L1227.10 90.35L1215.50 90.35Z" fill="none" stroke="#23906a" stroke-width="2.8" stroke-linejoin="miter"/>
<text x="1243.50" y="92.75" font-size="15.7" fill="#262626" text-anchor="start" >TCL(L=4)</text>
<path d="M1201.2 107.20H1241" stroke="#2a6aa6" stroke-width="2.7"/>
<path d="M1221.30 114.00L1227.10 103.90L1215.50 103.90Z" fill="none" stroke="#2a6aa6" stroke-width="2.8" stroke-linejoin="miter"/>
<text x="1243.50" y="112.90" font-size="15.7" fill="#262626" text-anchor="start" >TCL(L=5)</text>
<path d="M1202.2 127.35H1241" stroke="#d8a08a" stroke-width="2.7" stroke-dasharray="7.5 7.5"/>
<circle cx="1221.30" cy="127.35" r="5.1" fill="none" stroke="#d8a08a" stroke-width="2.8"/>
<text x="1243.50" y="133.05" font-size="15.7" fill="#262626" text-anchor="start" >NSVICA(L=1)</text>
<path d="M1202.2 147.50H1241" stroke="#e4c68e" stroke-width="2.7" stroke-dasharray="7.5 7.5"/>
<rect x="1217.10" y="143.30" width="8.40" height="8.40" fill="none" stroke="#e4c68e" stroke-width="2.8"/>
<text x="1243.50" y="153.20" font-size="15.7" fill="#262626" text-anchor="start" >NSVICA(L=2)</text>
<path d="M1202.2 167.65H1241" stroke="#ece2a6" stroke-width="2.7" stroke-dasharray="7.5 7.5"/>
<path d="M1221.30 161.35L1226.05 167.65L1221.30 173.95L1216.55 167.65Z" fill="none" stroke="#ece2a6" stroke-width="2.8"/>
<text x="1243.50" y="173.35" font-size="15.7" fill="#262626" text-anchor="start" >NSVICA(L=3)</text>
<path d="M1202.2 187.80H1241" stroke="#5c9c8c" stroke-width="2.7" stroke-dasharray="7.5 7.5"/>
<path d="M1221.30 181.00L1227.10 191.10L1215.50 191.10Z" fill="none" stroke="#5c9c8c" stroke-width="2.8" stroke-linejoin="miter"/>
<text x="1243.50" y="193.50" font-size="15.7" fill="#262626" text-anchor="start" >NSVICA(L=4)</text>
<path d="M1202.2 207.95H1241" stroke="#6c97b8" stroke-width="2.7" stroke-dasharray="7.5 7.5"/>
<path d="M1221.30 214.75L1227.10 204.65L1215.50 204.65Z" fill="none" stroke="#6c97b8" stroke-width="2.8" stroke-linejoin="miter"/>
<text x="1243.50" y="213.65" font-size="15.7" fill="#262626" text-anchor="start" >NSVICA(L=5)</text>
<path d="M1202.2 228.10H1239" stroke="#7a3418" stroke-width="2.7" stroke-dasharray="1.9 1.85"/>
<circle cx="1221.30" cy="228.10" r="5.1" fill="none" stroke="#7a3418" stroke-width="2.8"/>
<text x="1243.50" y="233.80" font-size="15.7" fill="#262626" text-anchor="start" >kTDSEP(L=1)</text>
<path d="M1202.2 248.25H1239" stroke="#8c6430" stroke-width="2.7" stroke-dasharray="1.9 1.85"/>
<rect x="1217.10" y="244.05" width="8.40" height="8.40" fill="none" stroke="#8c6430" stroke-width="2.8"/>
<text x="1243.50" y="253.95" font-size="15.7" fill="#262626" text-anchor="start" >kTDSEP(L=2)</text>
<path d="M1202.2 268.40H1239" stroke="#8f8a28" stroke-width="2.7" stroke-dasharray="1.9 1.85"/>
<path d="M1221.30 262.10L1226.05 268.40L1221.30 274.70L1216.55 268.40Z" fill="none" stroke="#8f8a28" stroke-width="2.8"/>
<text x="1243.50" y="274.10" font-size="15.7" fill="#262626" text-anchor="start" >kTDSEP(L=3)</text>
<path d="M1202.2 288.55H1239" stroke="#1f5c48" stroke-width="2.7" stroke-dasharray="1.9 1.85"/>
<path d="M1221.30 281.75L1227.10 291.85L1215.50 291.85Z" fill="none" stroke="#1f5c48" stroke-width="2.8" stroke-linejoin="miter"/>
<text x="1243.50" y="294.25" font-size="15.7" fill="#262626" text-anchor="start" >kTDSEP(L=4)</text>
<path d="M1202.2 308.70H1239" stroke="#1f4470" stroke-width="2.7" stroke-dasharray="1.9 1.85"/>
<path d="M1221.30 315.50L1227.10 305.40L1215.50 305.40Z" fill="none" stroke="#1f4470" stroke-width="2.8" stroke-linejoin="miter"/>
<text x="1243.50" y="314.40" font-size="15.7" fill="#262626" text-anchor="start" >kTDSEP(L=5)</text>
<path d="M1202.2 328.85H1241" stroke="#2b1d10" stroke-width="2.7" stroke-dasharray="7.3 2.4 2.6 2.4"/>
<circle cx="1221.30" cy="328.85" r="5.1" fill="none" stroke="#2b1d10" stroke-width="2.8"/>
<text x="1243.50" y="334.55" font-size="15.7" fill="#262626" text-anchor="start" >DAE(L=1)</text>
<path d="M1202.2 349.00H1241" stroke="#2e2414" stroke-width="2.7" stroke-dasharray="7.3 2.4 2.6 2.4"/>
<rect x="1217.10" y="344.80" width="8.40" height="8.40" fill="none" stroke="#2e2414" stroke-width="2.8"/>
<text x="1243.50" y="354.70" font-size="15.7" fill="#262626" text-anchor="start" >DAE(L=2)</text>
<path d="M1202.2 369.15H1241" stroke="#2e2e1e" stroke-width="2.7" stroke-dasharray="7.3 2.4 2.6 2.4"/>
<path d="M1221.30 362.85L1226.05 369.15L1221.30 375.45L1216.55 369.15Z" fill="none" stroke="#2e2e1e" stroke-width="2.8"/>
<text x="1243.50" y="374.85" font-size="15.7" fill="#262626" text-anchor="start" >DAE(L=3)</text>
</svg></body></html>
